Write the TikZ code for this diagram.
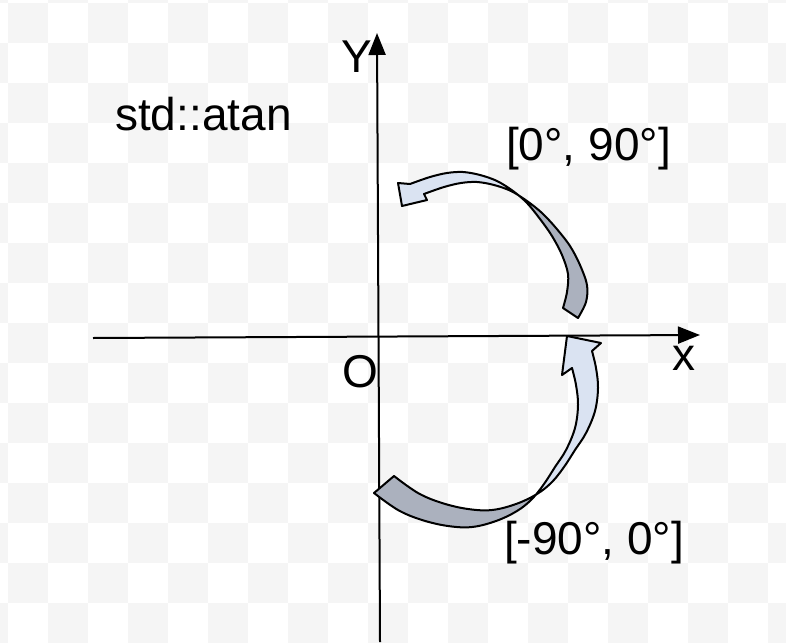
\documentclass[tikz,border=0pt]{standalone}
\usepackage{fontspec}
\setmainfont{Liberation Sans}
\usetikzlibrary{arrows.meta}
\definecolor{checker}{RGB}{245,245,245}
\definecolor{frontblue}{RGB}{218,227,242}
\definecolor{backgray}{RGB}{171,177,190}
\newcommand{\upperribbon}[1]{\path[#1]
  plot[smooth,tension=0.55] coordinates {(563,308) (567,292) (568,274) (562,255) (552,236) (540,219) (527,203) (513,191) (497,181) (480,175) (463,172) (447,173) (430,177) (410,184)}
  -- (398,183) -- (402,206) -- (427,200)
  -- plot[smooth,tension=0.55] coordinates {(424,194) (444,187) (461,183) (477,182) (494,185) (511,191) (527,201) (542,213) (556,228) (570,246) (580,265) (587,285) (586,302) (578,318)}
  -- cycle;}
\newcommand{\lowerribbon}[1]{\path[#1]
  plot[smooth,tension=0.6] coordinates {(374,493) (398,510) (422,520) (448,526) (472,527) (496,521) (517,511) (532,499) (544,484) (555,467) (566,450) (575,428) (578,405) (576,385) (572,368)}
  -- (562,375) -- (567,336) -- (601,343)
  -- plot[smooth,tension=0.6] coordinates {(592,351) (596,368) (598,388) (595,411) (586,433) (575,450) (564,467) (552,482) (537,494) (516,504) (492,510) (468,509) (442,503) (418,493) (394,476)}
  -- cycle;}
\begin{document}
\begin{tikzpicture}[x=1pt,y=-1pt,
  lbl/.style={anchor=base west, inner sep=0pt, font=\fontsize{46}{54}\selectfont},
  axis/.style={line width=2pt, -{Triangle[length=22pt,width=17pt]}},
  outline/.style={draw=black, line width=2pt, line join=round}]
\useasboundingbox (0,0) rectangle (786,642);
% checkerboard background
\begin{scope}
\clip (0,0) rectangle (786,642);
\foreach \i in {-1,...,19}{\foreach \j in {-1,...,16}{
  \pgfmathtruncatemacro\s{mod(\i+\j+2,2)}
  \ifnum\s=0 \fill[checker] ({8+40*\i},{3+40*\j}) rectangle ++(40,40);\fi}}
\end{scope}
% axes
\coordinate (xs) at (93,338);
\coordinate (xe) at (700,335);
\coordinate (ys) at (380,642);
\coordinate (ye) at (377,33);
\draw[axis] (xs) -- (xe);
\draw[axis] (ys) -- (ye);
% upper curved arrow
\upperribbon{fill=frontblue}
\begin{scope}
\clip (414,332) -- (574,108) -- (700,108) -- (700,332) -- cycle;
\upperribbon{fill=backgray}
\end{scope}
\upperribbon{outline}
% lower curved arrow
\lowerribbon{fill=frontblue}
\begin{scope}
\clip (399,335) -- (671,655) -- (300,655) -- (300,335) -- cycle;
\lowerribbon{fill=backgray}
\end{scope}
\lowerribbon{outline}
% labels
\node[lbl] (title) at (115,130) {std::atan};
\node[lbl] (ylabel) at (341,72) {Y};
\node[lbl] (xlabel) at (672,370) {x};
\node[lbl] (origin) at (342,387) {O};
\node[lbl] (upper) at (506,160) {[0°, 90°]};
\node[lbl] (lower) at (504,554) {[-90°, 0°]};
\end{tikzpicture}
\end{document}
